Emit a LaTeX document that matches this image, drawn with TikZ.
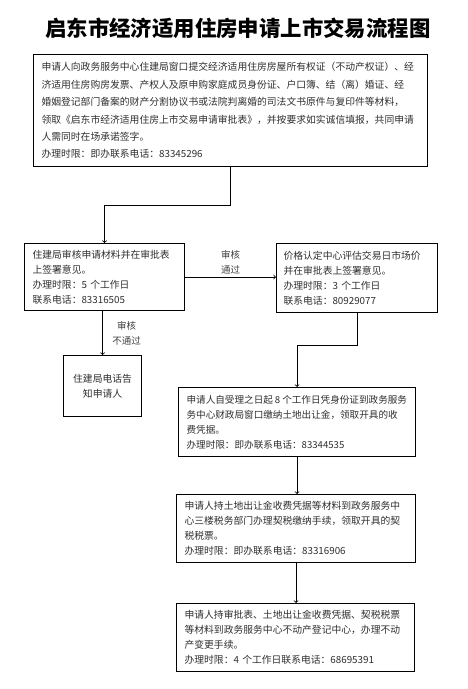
\documentclass[tikz,border=0pt]{standalone}
\usepackage{fontspec}
\usepackage{xcolor}
\usepackage{tikz}
\newfontfamily\cjk{Noto Sans CJK SC}

\tikzset{
  procbox/.style={draw=black,line width=1.1pt,anchor=north west,inner xsep=8pt,
    inner ysep=0pt,align=left,text=black!82,
    font=\cjk\fontsize{9.8}{15}\selectfont},
  flowline/.style={black,line width=0.8pt},
  edgelabel/.style={text=black!75,align=center,font=\cjk\fontsize{9.5}{15}\selectfont}
}

\begin{document}
\begin{tikzpicture}[x=1pt,y=-1pt]
  \useasboundingbox (0,0) rectangle (468,689);
  % title
  \node[font=\cjk\bfseries\fontsize{21.4}{26}\selectfont] (title) at (238,28)
    {启东市经济适用住房申请上市交易流程图};
  % boxes
  \node[procbox,text width=378,minimum height=112,
    font=\cjk\fontsize{9.8}{17.4}\selectfont] (apply) at (33,54)
    {申请人向政务服务中心住建局窗口提交经济适用住房房屋所有权证（不动产权证）、经\\
     济适用住房购房发票、产权人及原申购家庭成员身份证、户口簿、结（离）婚证、经\\
     婚姻登记部门备案的财产分割协议书或法院判离婚的司法文书原件与复印件等材料，\\
     领取《启东市经济适用住房上市交易申请审批表》，并按要求如实诚信填报，共同申请\\
     人需同时在场承诺签字。\\
     办理时限：即办联系电话：83345296};
  \node[procbox,text width=144,minimum height=67] (review) at (24,243)
    {住建局审核申请材料并在审批表\\
     上签署意见。\\
     办理时限：5~个工作日\\
     联系电话：83316505};
  \node[procbox,text width=62,minimum height=61,align=center] (notify) at (63,355)
    {住建局电话告\\知申请人};
  \node[procbox,text width=147,minimum height=69,inner xsep=7pt] (price) at (276,243)
    {价格认定中心评估交易日市场价\\
     并在审批表上签署意见。\\
     办理时限：3~个工作日\\
     联系电话：80929077};
  \node[procbox,text width=221,minimum height=69] (land) at (178,387)
    {\fontsize{9.6}{15}\selectfont
     申请人自受理之日起\hspace{2pt}8\hspace{2pt}个工作日凭身份证到政务服务\\
     务中心财政局窗口缴纳土地出让金，领取开具的收\\
     费凭据。\\
     办理时限：即办联系电话：83344535};
  \node[procbox,text width=223,minimum height=68] (tax) at (176,494)
    {申请人持土地出让金收费凭据等材料到政务服务中\\
     心三楼税务部门办理契税缴纳手续，领取开具的契\\
     税税票。\\
     办理时限：即办联系电话：83316906};
  \node[procbox,text width=222,minimum height=68] (register) at (176,603)
    {申请人持审批表、土地出让金收费凭据、契税税票\\
     等材料到政务服务中心不动产登记中心，办理不动\\
     产变更手续。\\
     办理时限：4~个工作日联系电话：68695391};
  % connectors
  \draw[flowline,->] (apply.south) -- ++(0,38) -| (review.north);
  \draw[flowline,->] (review.south -| notify.north) -- (notify.north)
    node[edgelabel,midway,right=6pt] {审核\\不通过};
  \draw[flowline,->] (review.east) -- (review.east -| price.west)
    node[edgelabel,midway,above=-1pt] {审核\\通过};
  \draw[flowline,->] (price.south) -- ++(0,32) -| (land.north);
  \draw[flowline,->] (land.south) -- (land.south |- tax.north);
  \draw[flowline,->] (tax.south) -- (tax.south |- register.north);
\end{tikzpicture}
\end{document}
